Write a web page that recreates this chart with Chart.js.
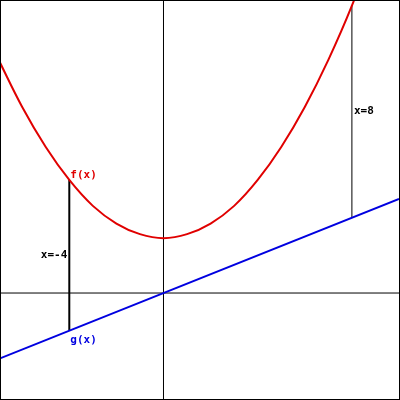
<!DOCTYPE html>
<html><head><meta charset="utf-8">
<script src="https://cdn.jsdelivr.net/npm/chart.js@4"></script>
<style>html,body{margin:0;padding:0;background:#fff}#w{width:398px;height:398px;border:1px solid #000}</style>
</head><body><div id="w"><canvas id="c"></canvas></div>
<script>
const xs = [-7,-6,-5,-4,-3,-2,-1,0,1,2,3,4,5,6,7,8,9];
const fVals = [9.9,7.9,6.2,4.8,3.7,2.95,2.5,2.33,2.5,2.95,3.7,4.8,6.2,7.9,9.9,12.2,14.9];
const gXs = [-7,10];
const gVals = [-2.8,4.0];
const markX = [-4,8];
const markLabels = ["x=-4","x=8"];
const fnLabels = ["f(x)","g(x)"];
const xRange = [-6.9,10];
const yRange = [-4.5,12.4];

const pts = (a,b)=>a.map((x,i)=>({x,y:b[i]}));
const fAt = x => fVals[xs.indexOf(x)];
const gAt = x => gVals[0] + (gVals[1]-gVals[0])*(x-gXs[0])/(gXs[1]-gXs[0]);
const ds = [
 {data:pts(xs,fVals),borderColor:'#e00000',borderWidth:2,tension:0.4},
 {data:pts(gXs,gVals),borderColor:'#0000e0',borderWidth:2},
 {data:[{x:xRange[0],y:0},{x:xRange[1],y:0}],borderColor:'#000',borderWidth:1},
 {data:[{x:0,y:yRange[0]},{x:0,y:yRange[1]}],borderColor:'#000',borderWidth:1},
];
markX.forEach((m,i)=>ds.push({data:[{x:m,y:gAt(m)},{x:m,y:fAt(m)}],borderColor:'#000',borderWidth:i==0?2:1}));
const labelsPlugin={id:'lbl',afterDatasetsDraw(ch){
 const c=ch.ctx,x=ch.scales.x,y=ch.scales.y;
 c.save();c.font='bold 11px "DejaVu Sans Mono"';c.textBaseline='middle';
 c.fillStyle='#e00000';c.textAlign='left';
 c.fillText(fnLabels[0],x.getPixelForValue(markX[0])+1,y.getPixelForValue(fAt(markX[0]))-5);
 c.fillStyle='#0000e0';
 c.fillText(fnLabels[1],x.getPixelForValue(markX[0])+1,y.getPixelForValue(gAt(markX[0]))+9);
 c.fillStyle='#000';c.textAlign='right';
 const m0=(fAt(markX[0])+gAt(markX[0]))/2;
 c.fillText(markLabels[0],x.getPixelForValue(markX[0])-2,y.getPixelForValue(m0));
 c.textAlign='left';
 c.fillText(markLabels[1],x.getPixelForValue(markX[1])+2,y.getPixelForValue(fAt(markX[1]))+105);
 c.restore();}};
new Chart(document.getElementById('c'),{type:'line',data:{datasets:ds},
 options:{animation:false,responsive:true,maintainAspectRatio:false,
  elements:{point:{radius:0}},layout:{padding:0},
  plugins:{legend:{display:false},tooltip:{enabled:false}},
  scales:{x:{type:'linear',min:xRange[0],max:xRange[1],display:false},
          y:{type:'linear',min:yRange[0],max:yRange[1],display:false}}},
 plugins:[labelsPlugin]});
</script></body></html>
